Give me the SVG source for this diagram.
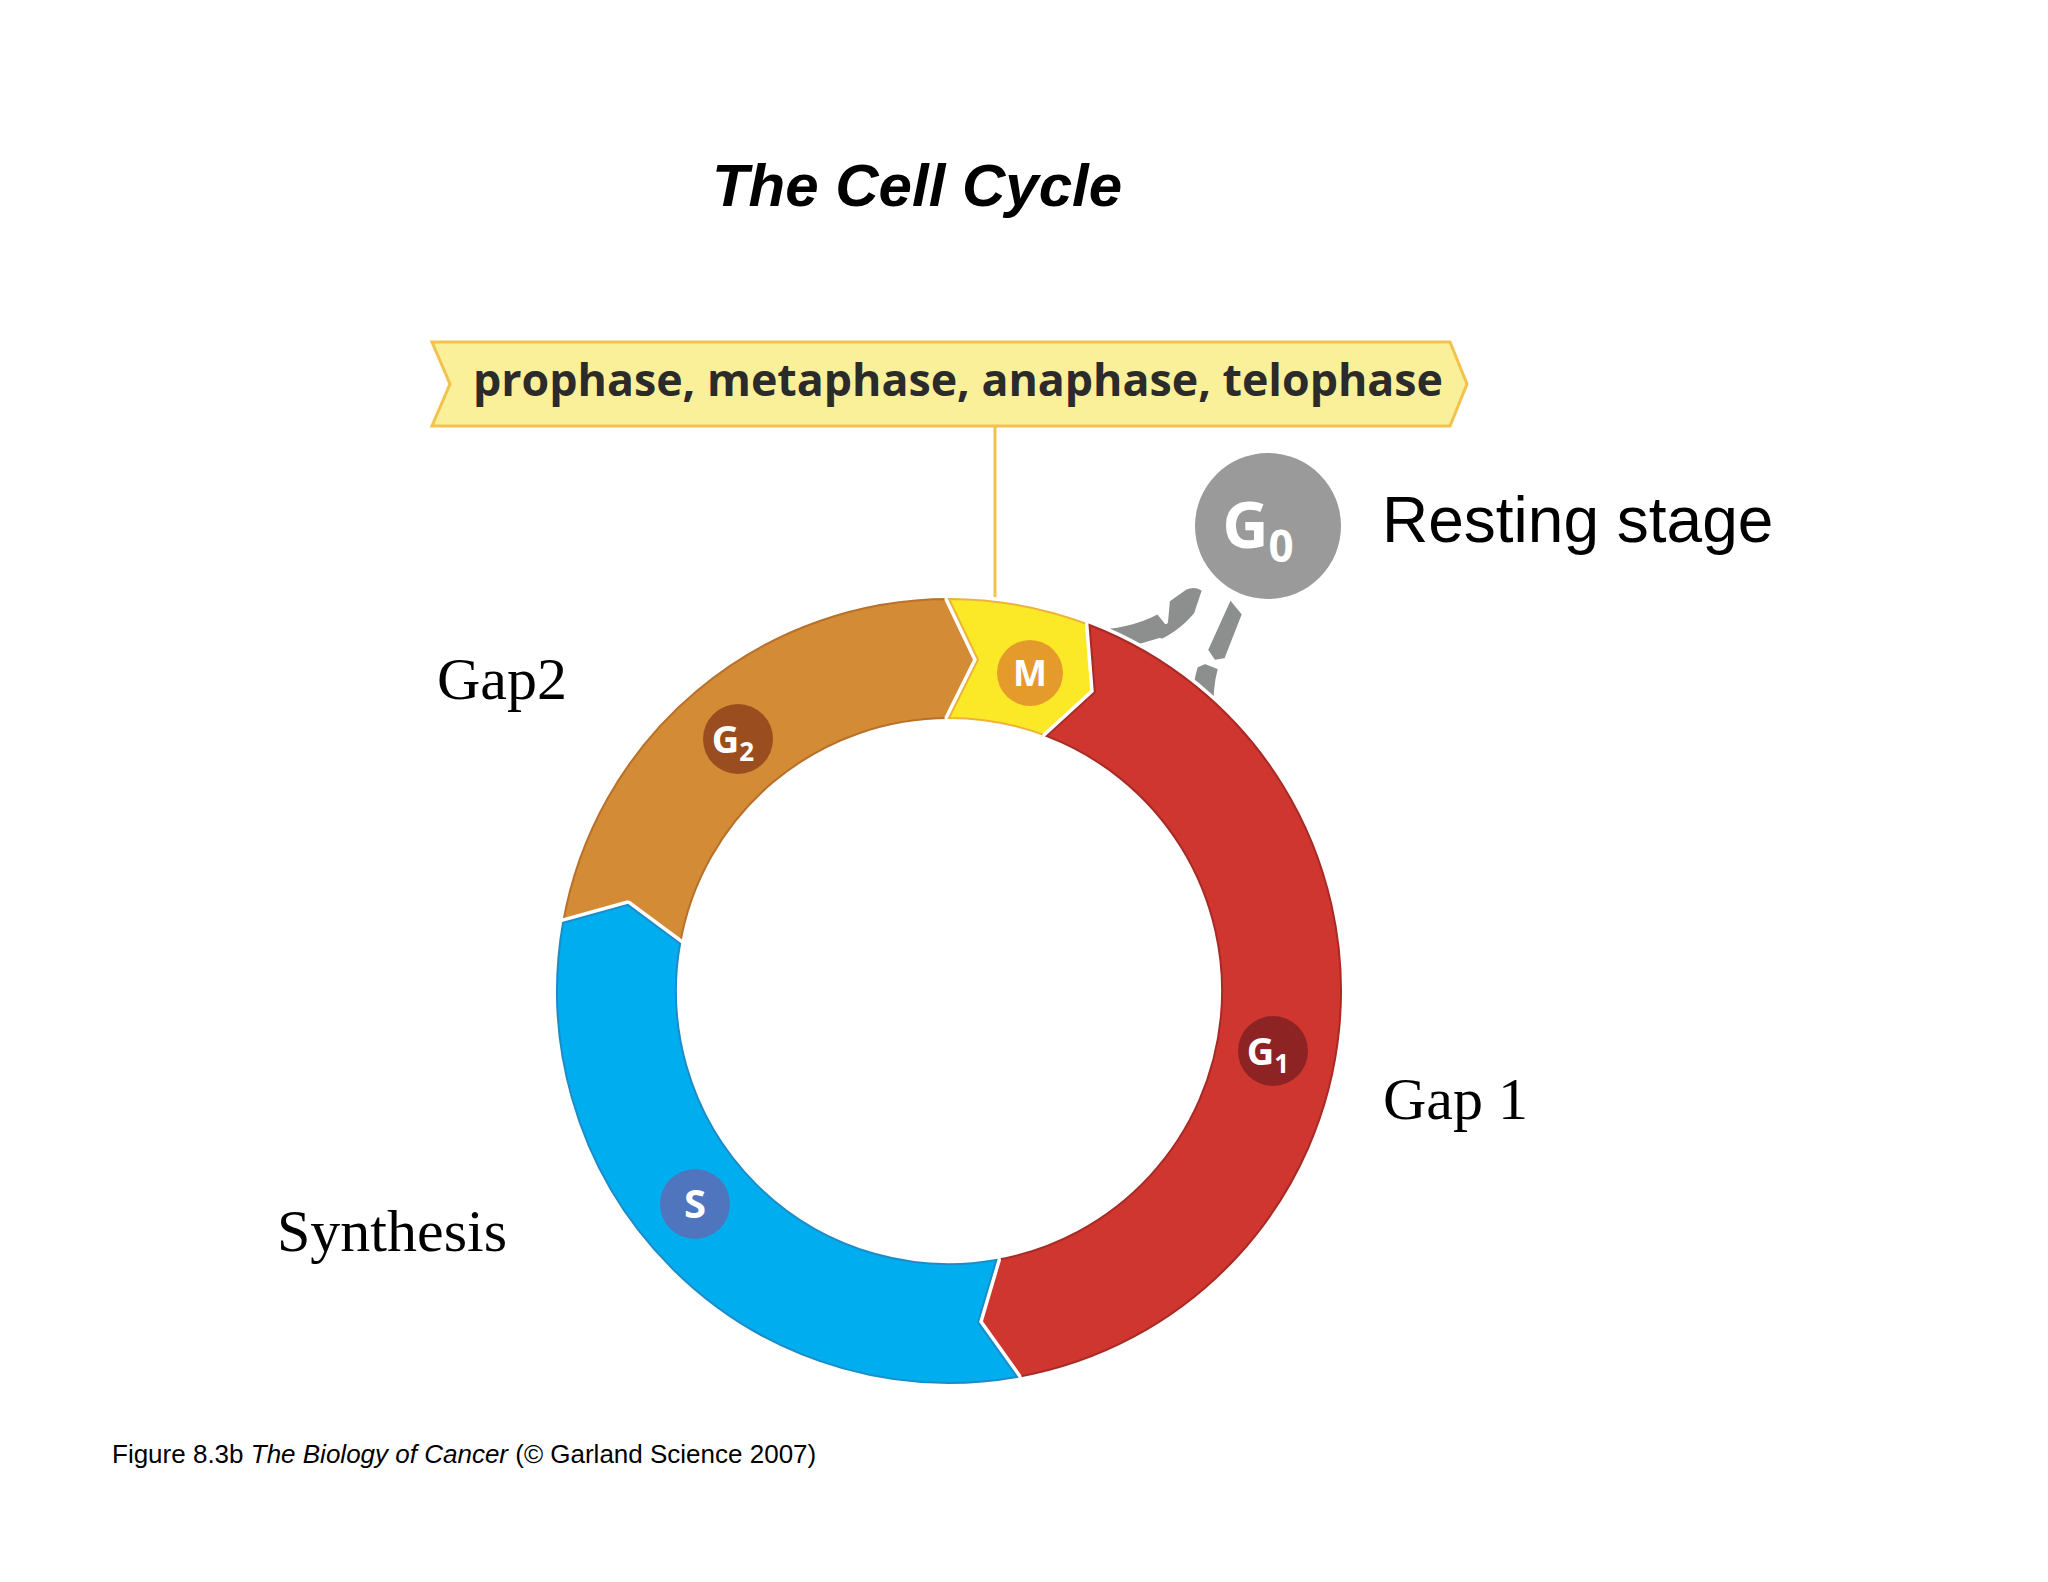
<svg xmlns="http://www.w3.org/2000/svg" width="2048" height="1582" viewBox="0 0 2048 1582">
<style>
.gap{fill:none;stroke:#fff;stroke-width:9;stroke-linejoin:round}
.badge-t{font-family:"Open Sans","DejaVu Sans",sans-serif;font-weight:bold;fill:#fff;text-anchor:middle}
.lbl{font-family:"Liberation Serif",serif;font-size:60px;fill:#000}
.g0a{fill:#8c8f8e;stroke:#fff;stroke-width:4;stroke-linejoin:round}
</style>
<rect width="2048" height="1582" fill="#fff"/>
<text x="917" y="206" font-family="Liberation Sans,Arial,sans-serif" font-size="60" font-weight="bold" font-style="italic" text-anchor="middle">The Cell Cycle</text>

<g id="banner">
<path d="M432 342 L1450 342 L1467 384 L1450 426 L432 426 L450 384 Z" fill="#FBF09A" stroke="#F2C14E" stroke-width="3"/>
<text x="958" y="396" font-family="Open Sans,DejaVu Sans,sans-serif" font-size="44" font-weight="bold" fill="#2b2b2b" text-anchor="middle" textLength="970" lengthAdjust="spacingAndGlyphs">prophase, metaphase, anaphase, telophase</text>
</g>

<g id="connectors">
<line x1="995" y1="426" x2="995" y2="624" stroke="#F2C14E" stroke-width="3"/>
<circle cx="995" cy="626" r="8" fill="#F7D85A" stroke="#E8B33A" stroke-width="2"/>
<path class="g0a" d="M1088 628 Q1128 628 1158 612 L1166 622 L1168 600 L1185 588 Q1196 583 1204 590 L1196 614 Q1178 636 1150 646 L1160 640 Q1125 652 1088 652 Z"/>
<path class="g0a" d="M1230 597 L1244 614 L1226 660 L1214 662 L1206 650 Z"/>
<path class="g0a" d="M1205 662 L1220 668 Q1214 690 1216 715 L1222 722 L1210 740 L1192 726 Q1188 690 1196 666 Z"/>
</g>

<g id="G2">
<path class="gap" d="M563 922.9 A392 392 0 0 1 949 599 L978 659.8 L949 718 A273 273 0 0 0 680.1 943.6 L627.8 904.9 Z"/>
<path d="M563 922.9 A392 392 0 0 1 949 599 L978 659.8 L949 718 A273 273 0 0 0 680.1 943.6 L627.8 904.9 Z" fill="#D38B35" stroke="#B8702A" stroke-width="2"/>
<circle cx="738" cy="739" r="35" fill="#9A4E20"/>
<text class="badge-t" x="733" y="753" font-size="38">G<tspan font-size="26" dy="8">2</tspan></text>
</g>

<g id="M">
<path class="gap" d="M949 599 A392 392 0 0 1 1089.5 625 L1094.8 692.2 L1046.8 736.1 A273 273 0 0 0 949 718 L978 659.8 Z"/>
<path d="M949 599 A392 392 0 0 1 1089.5 625 L1094.8 692.2 L1046.8 736.1 A273 273 0 0 0 949 718 L978 659.8 Z" fill="#FBE928" stroke="#EDB23A" stroke-width="2"/>
<circle cx="1030" cy="673" r="33" fill="#E59B2C"/>
<text class="badge-t" x="1030" y="686" font-size="36">M</text>
</g>

<g id="G1">
<path class="gap" d="M1089.5 625 A392 392 0 0 1 1017.1 1377 L978 1322.2 L996.4 1259.9 A273 273 0 0 0 1046.8 736.1 L1094.8 692.2 Z"/>
<path d="M1089.5 625 A392 392 0 0 1 1017.1 1377 L978 1322.2 L996.4 1259.9 A273 273 0 0 0 1046.8 736.1 L1094.8 692.2 Z" fill="#CF3630" stroke="#A82A25" stroke-width="2"/>
<circle cx="1273" cy="1051" r="35" fill="#8E2323"/>
<text class="badge-t" x="1268" y="1065" font-size="38">G<tspan font-size="26" dy="8">1</tspan></text>
</g>

<g id="S">
<path class="gap" d="M1017.1 1377 A392 392 0 0 1 563 922.9 L627.8 904.9 L680.1 943.6 A273 273 0 0 0 996.4 1259.9 L978 1322.2 Z"/>
<path d="M1017.1 1377 A392 392 0 0 1 563 922.9 L627.8 904.9 L680.1 943.6 A273 273 0 0 0 996.4 1259.9 L978 1322.2 Z" fill="#00AEEF" stroke="#1C8CC8" stroke-width="2"/>
<circle cx="695" cy="1204" r="35" fill="#4F75BE"/>
<text class="badge-t" x="695" y="1218" font-size="40">S</text>
</g>

<g id="G0">
<circle cx="1268" cy="526" r="73" fill="#999a99"/>
<text class="badge-t" x="1258" y="548" font-size="64">G<tspan font-size="44" dy="14">0</tspan></text>
<text x="1382" y="542" font-family="Liberation Sans,Arial,sans-serif" font-size="64">Resting stage</text>
</g>

<text class="lbl" x="437" y="699">Gap2</text>
<text class="lbl" x="1383" y="1119">Gap 1</text>
<text class="lbl" x="277" y="1251">Synthesis</text>
<text x="112" y="1463" font-family="Liberation Sans,Arial,sans-serif" font-size="26">Figure 8.3b  <tspan font-style="italic">The Biology of Cancer</tspan> (© Garland Science 2007)</text>
</svg>
